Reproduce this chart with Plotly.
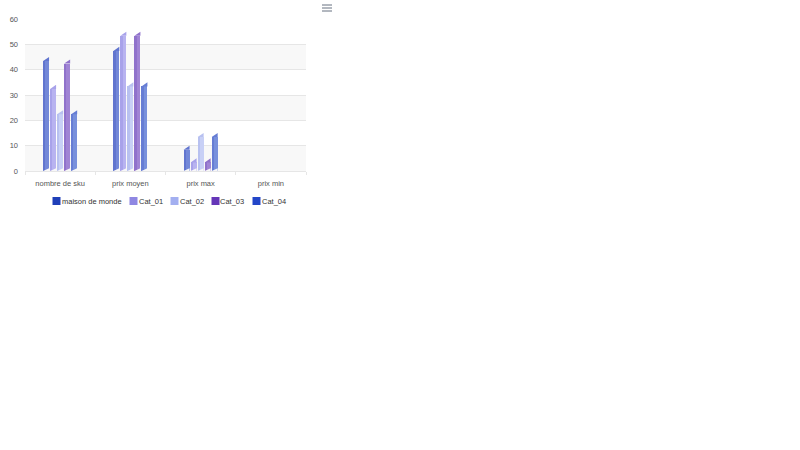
import plotly.graph_objects as go

categories = ["nombre de sku", "prix moyen", "prix max", "prix min"]
series_names = ["maison de monde", "Cat_01", "Cat_02", "Cat_03", "Cat_04"]
maison_de_monde = [45, 49, 10, 0]
cat_01 = [34, 55, 5, 0]
cat_02 = [24, 35, 15, 0]
cat_03 = [44, 55, 5, 0]
cat_04 = [24, 35, 15, 0]
y_ticks = [0, 10, 20, 30, 40, 50, 60]

all_values = [maison_de_monde, cat_01, cat_02, cat_03, cat_04]
legend_colors = ["#1f3fb8", "#8f87e2", "#a3aff0", "#6536b8", "#2346c8"]
face_colors = ["#7388d8", "#b8b3f0", "#c8d0f6", "#a084d4", "#7890dc"]
edge_colors = ["#6175cf", "#a8a2ea", "#b8c1f0", "#9072cb", "#667dd4"]
TEXT = 7.5

W, H = 800, 450
L, R, T, B = 25, 306, 19, 171
STEP, BAR = 0.1, 6 / 70.3
EDGE = 2.2 / 70.3
SLANT = 1.6
px = lambda x: (x - L) / (R - L)
py = lambda y: (B - y) / (B - T)

fig = go.Figure()
for i, (name, vals) in enumerate(zip(series_names, all_values)):
    xs = [g + (i - 2) * STEP for g in range(len(categories))]
    body = [max(v - SLANT, 0) for v in vals]
    fig.add_trace(go.Bar(
        x=xs, y=body, width=BAR, name=name,
        marker=dict(color=face_colors[i], line_width=0), showlegend=False,
        hovertemplate=f"{name}: %{{customdata}}<extra></extra>", customdata=vals))
    fig.add_trace(go.Bar(
        x=[x - BAR / 2 + EDGE / 2 for x in xs], y=body,
        width=EDGE, marker=dict(color=edge_colors[i], line_width=0),
        showlegend=False, hoverinfo="skip"))
    tx, ty, bx, by = [], [], [], []
    for x, v in zip(xs, vals):
        if v <= 0:
            continue
        lo, hi = x - BAR / 2, x + BAR / 2
        tx += [lo, hi, hi, None]
        ty += [v - SLANT, v, v - SLANT, None]
        bx += [lo, hi, hi, None]
        by += [0, 0, SLANT * 0.7, None]
    fig.add_trace(go.Scatter(x=tx, y=ty, mode="lines", fill="toself", fillcolor=edge_colors[i],
                             line_width=0, showlegend=False, hoverinfo="skip"))
    fig.add_trace(go.Scatter(x=bx, y=by, mode="lines", fill="toself", fillcolor="#f8f8f8",
                             line_width=0, showlegend=False, hoverinfo="skip"))

shapes = []
for lo in (0, 20, 40):
    shapes.append(dict(type="rect", xref="paper", yref="y", x0=0, x1=1, y0=lo, y1=lo + 10,
                       fillcolor="#f8f8f8", line_width=0, layer="below"))
for yy in (5, 8, 11):
    shapes.append(dict(type="line", xref="paper", yref="paper", x0=px(322), x1=px(332),
                       y0=py(yy), y1=py(yy), line=dict(color="#667080", width=1)))
annotations = []
legend_sq = [52.5, 129.5, 170.5, 211.5, 252.5]
for s, name, col in zip(legend_sq, series_names, legend_colors):
    shapes.append(dict(type="rect", xref="paper", yref="paper", x0=px(s), x1=px(s + 8),
                       y0=py(197), y1=py(205), fillcolor=col, line_width=0))
    annotations.append(dict(xref="paper", yref="paper", x=px(s + 7), y=py(201), text=name,
                            showarrow=False, xanchor="left", yanchor="middle",
                            font=dict(size=TEXT, color="#333333", family="Liberation Sans")))

fig.update_layout(
    width=W, height=H, autosize=False, barmode="overlay", bargap=0,
    margin=dict(l=L, r=W - R, t=T, b=H - B, pad=0, autoexpand=False),
    paper_bgcolor="white", plot_bgcolor="white", showlegend=False,
    font=dict(family="Liberation Sans", size=TEXT, color="#555555"),
    shapes=shapes, annotations=annotations,
    xaxis=dict(range=[-0.5, 3.5], tickmode="array", tickvals=list(range(4)), ticktext=categories,
               ticks="", showgrid=False, zeroline=False, showline=True, linecolor="#e6e6e6",
               automargin=False,
               tickfont=dict(size=TEXT, color="#555555"), ticklabelstandoff=5,
               minor=dict(tickmode="array", tickvals=[-0.5, 0.5, 1.5, 2.5, 3.5], ticks="outside",
                          ticklen=3, tickcolor="#e6e6e6", showgrid=False)),
    yaxis=dict(range=[0, 60], tickvals=y_ticks, gridcolor="#e6e6e6", zeroline=False,
               automargin=False,
               tickfont=dict(size=TEXT, color="#555555"), ticks="", ticklabelstandoff=6),
)
fig.write_html("out.html", config=dict(displayModeBar=False),
               post_script="document.body.style.margin='0';window.dispatchEvent(new Event('resize'));")
